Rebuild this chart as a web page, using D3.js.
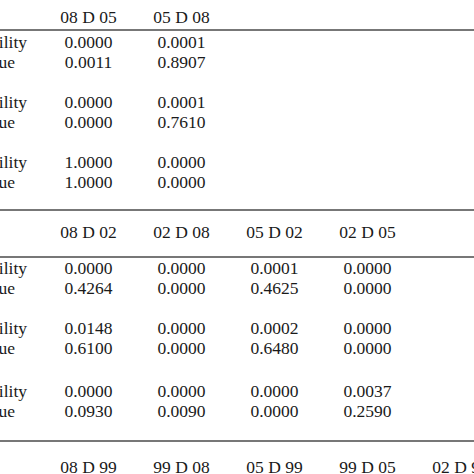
<!DOCTYPE html>
<html><head><meta charset="utf-8">
<script src="https://cdn.jsdelivr.net/npm/d3@7"></script>
<style>body{margin:0;background:#fff}text{font-family:"Liberation Serif",serif;font-size:17.5px;fill:#1a1a1a}</style>
</head><body><svg id="tbl" width="474" height="474"></svg>
<script>
// Table contents, panel by panel
const headers1 = ["08 D 05", "05 D 08"];
const values1 = [["0.0000", "0.0001"], ["0.0011", "0.8907"], ["0.0000", "0.0001"], ["0.0000", "0.7610"], ["1.0000", "0.0000"], ["1.0000", "0.0000"]];
const headers2 = ["08 D 02", "02 D 08", "05 D 02", "02 D 05"];
const values2 = [["0.0000", "0.0000", "0.0001", "0.0000"], ["0.4264", "0.0000", "0.4625", "0.0000"], ["0.0148", "0.0000", "0.0002", "0.0000"], ["0.6100", "0.0000", "0.6480", "0.0000"], ["0.0000", "0.0000", "0.0000", "0.0037"], ["0.0930", "0.0090", "0.0000", "0.2590"]];
const headers3 = ["08 D 99", "99 D 08", "05 D 99", "99 D 05", "02 D 99"];
const rowLabels = ["Probability", "P-value", "Probability", "P-value", "Probability", "P-value"];

const svg = d3.select("#tbl");
const x = d3.scaleBand().domain(d3.range(5)).range([42, 507]);
const colX = i => x(i) + x.bandwidth() / 2;

function panel(headY, lineY, rowYs, endY, headers, values) {
  svg.selectAll(null).data(headers).enter().append("text")
    .attr("x", (d, i) => colX(i)).attr("y", headY + 6).attr("text-anchor", "middle").text(d => d);
  if (!values) return;
  svg.append("rect").attr("x", 0).attr("y", lineY - 1).attr("width", 474).attr("height", 2).attr("fill", "#777");
  const rows = svg.selectAll(null).data(values).enter().append("g")
    .attr("transform", (d, r) => `translate(0,${rowYs[r] + 6})`);
  rows.append("text").attr("x", (d, r) => r % 2 ? 15 : 27).attr("text-anchor", "end")
    .text((d, r) => rowLabels[r]);
  rows.selectAll(null).data(d => d).enter().append("text")
    .attr("x", (d, i) => colX(i)).attr("text-anchor", "middle").text(d => d);
  svg.append("rect").attr("x", 0).attr("y", endY - 1).attr("width", 474).attr("height", 2).attr("fill", "#777");
}
panel(17, 30, [42, 62, 102, 122, 162, 182], 210, headers1, values1);
panel(232, 257, [268, 288, 328, 348, 391, 411], 441, headers2, values2);
panel(467, 0, [], 0, headers3, null);
</script></body></html>
